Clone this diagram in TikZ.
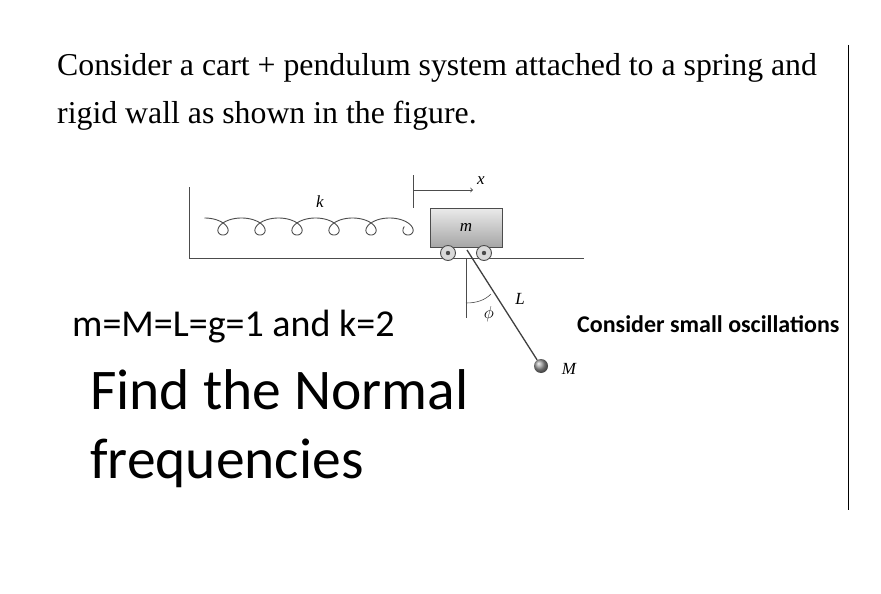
\documentclass[tikz,border=0pt]{standalone}
\usepackage{fontspec}
\setmainfont{Liberation Serif}
\newfontfamily\calfont{Carlito}
\begin{document}
\begin{tikzpicture}[x=1pt,y=-1pt,
 thinl/.style={draw=black!70,line width=0.9pt},
 lab/.style={font=\itshape\fontsize{17}{17}\selectfont},
 wheel/.style={circle,draw=black!70,line width=0.9pt,fill=black!15,minimum size=15pt,inner sep=0pt}]
\useasboundingbox (0,0) rectangle (881,594);
\draw[line width=0.8pt] (848,45) -- (848,510);
\node[anchor=base west,font=\fontsize{31.8}{31.8}\selectfont,inner sep=0] (t1) at (57,76) {Consider a cart + pendulum system attached to a spring and};
\node[anchor=base west,font=\fontsize{31.8}{31.8}\selectfont,inner sep=0] (t2) at (57,123) {rigid wall as shown in the figure.};
% wall & ground
\draw[thinl] (189,187) -- (189,258) -- (584,258);
% spring
\draw[thinl,smooth,samples=400,domain=-3.1416:32.99] plot ({223+5.89*\x-13*sin(\x r)},{226.5+8.5*cos(\x r)});
% cart
\node[draw=black!70,line width=0.9pt,top color=black!8,bottom color=black!35,minimum width=72pt,minimum height=39pt,inner sep=0,lab] (cart) at (466,227.5) {m};
\node[wheel] (w1) at (448,253) {};
\node[wheel] (w2) at (484,253) {};
\fill[black!70] (w1) circle (2.2) (w2) circle (2.2);
\coordinate (piv) at (467,250);
% x arrow
\draw[thinl] (413,175) -- (413,208);
\draw[thinl,->] (413,190) -- (473,190);
\node[lab] (xl) at (481,181) {x};
\node[lab] (kl) at (320,202) {k};
% pendulum
\draw[black!70,line width=0.6pt] (466,258) -- (466,318);
\node[circle,ball color=black!40,minimum size=14pt,inner sep=0] (bob) at (541,366) {};
\draw[black!75,line width=1.3pt] (piv) -- (bob);
\draw[black!70,line width=0.6pt] (466,303) .. controls (477,303) and (485,300) .. (491,294);
\node[font=\fontsize{17}{17}\selectfont] (phi) at (489,314) {$\phi$};
\node[lab] (Ll) at (520,299) {L};
\node[lab] (Ml) at (569,369) {M};
% texts
\node[anchor=base west,font=\calfont\fontsize{38}{38}\selectfont,inner sep=0] (p) at (72,336) {m=M=L=g=1 and k=2};
\node[anchor=base west,font=\calfont\bfseries\fontsize{24}{24}\selectfont,inner sep=0] (s) at (577,332) {Consider small oscillations};
\node[anchor=base west,font=\calfont\fontsize{57.5}{57.5}\selectfont,inner sep=0] (f1) at (90,409) {Find the Normal};
\node[anchor=base west,font=\calfont\fontsize{57.5}{57.5}\selectfont,inner sep=0] (f2) at (90,478) {frequencies};
\end{tikzpicture}
\end{document}
